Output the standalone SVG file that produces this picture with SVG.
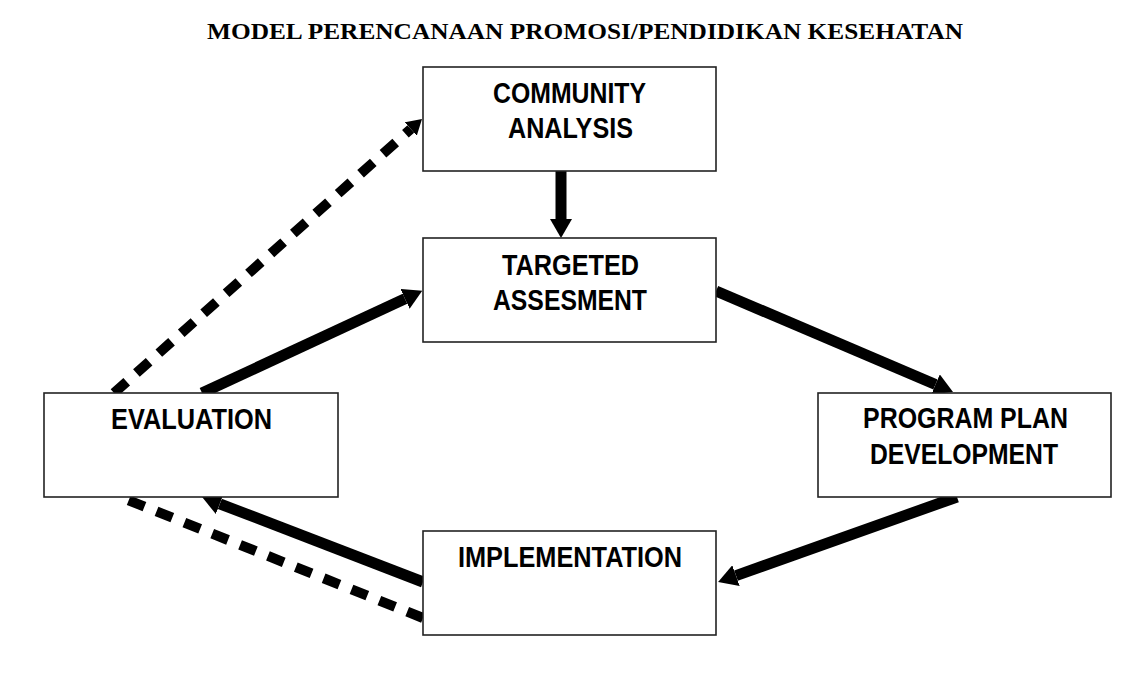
<svg xmlns="http://www.w3.org/2000/svg" width="1137" height="684" viewBox="0 0 1137 684">
<style>
.box{fill:#fff;stroke:#222;stroke-width:1.6}
.lbl{font-family:"Liberation Sans",Arial,sans-serif;font-weight:bold;font-size:29px;fill:#000}
.title{font-family:"Liberation Serif","Times New Roman",serif;font-weight:bold;font-size:23px;fill:#000}
.solid{stroke:#000;stroke-width:11;fill:none;stroke-linecap:butt}
.dash{stroke:#000;stroke-width:10;fill:none;stroke-dasharray:17 13;stroke-linecap:butt}
</style>
<defs>
<marker id="ah" markerUnits="userSpaceOnUse" viewBox="0 -11 19 22" markerWidth="19" markerHeight="22" refX="0" refY="0" orient="auto">
<path d="M0,-11 L19,0 L0,11 z" fill="#000"/>
</marker>
<marker id="ahs" markerUnits="userSpaceOnUse" viewBox="0 -9 15 18" markerWidth="15" markerHeight="18" refX="0" refY="0" orient="auto">
<path d="M0,-9 L15,0 L0,9 z" fill="#000"/>
</marker>
</defs>
<rect width="1137" height="684" fill="#fff"/>
<text class="title" x="207" y="38.5" textLength="756" lengthAdjust="spacingAndGlyphs">MODEL PERENCANAAN PROMOSI/PENDIDIKAN KESEHATAN</text>
<g id="connectors">
<line class="solid" x1="561" y1="171" x2="561" y2="219" marker-end="url(#ah)"/>
<line class="solid" x1="202" y1="393" x2="405" y2="298.8" marker-end="url(#ah)"/>
<line class="solid" x1="716" y1="291" x2="935.5" y2="384.5" marker-end="url(#ah)"/>
<line class="solid" x1="957" y1="497" x2="736" y2="575.6" marker-end="url(#ah)"/>
<line class="solid" x1="423" y1="582" x2="219.8" y2="503.8" marker-end="url(#ah)"/>
<line class="dash" x1="114" y1="393" x2="410.8" y2="129" marker-end="url(#ahs)"/>
<line class="dash" x1="423" y1="618" x2="128" y2="500"/>
</g>
<g id="community">
<rect class="box" x="423" y="67" width="293" height="104"/>
<text class="lbl" x="493" y="103" textLength="153" lengthAdjust="spacingAndGlyphs">COMMUNITY</text>
<text class="lbl" x="508" y="138" textLength="125" lengthAdjust="spacingAndGlyphs">ANALYSIS</text>
</g>
<g id="targeted">
<rect class="box" x="423" y="238" width="293" height="104"/>
<text class="lbl" x="502" y="275" textLength="137" lengthAdjust="spacingAndGlyphs">TARGETED</text>
<text class="lbl" x="493" y="310" textLength="154" lengthAdjust="spacingAndGlyphs">ASSESMENT</text>
</g>
<g id="evaluation">
<rect class="box" x="44" y="393" width="294" height="104"/>
<text class="lbl" x="111" y="429" textLength="161" lengthAdjust="spacingAndGlyphs">EVALUATION</text>
</g>
<g id="program">
<rect class="box" x="818" y="393" width="293" height="104"/>
<text class="lbl" x="863" y="428" textLength="205" lengthAdjust="spacingAndGlyphs">PROGRAM PLAN</text>
<text class="lbl" x="870" y="464" textLength="188" lengthAdjust="spacingAndGlyphs">DEVELOPMENT</text>
</g>
<g id="implementation">
<rect class="box" x="423" y="531" width="293" height="104"/>
<text class="lbl" x="458" y="567" textLength="224" lengthAdjust="spacingAndGlyphs">IMPLEMENTATION</text>
</g>
</svg>
